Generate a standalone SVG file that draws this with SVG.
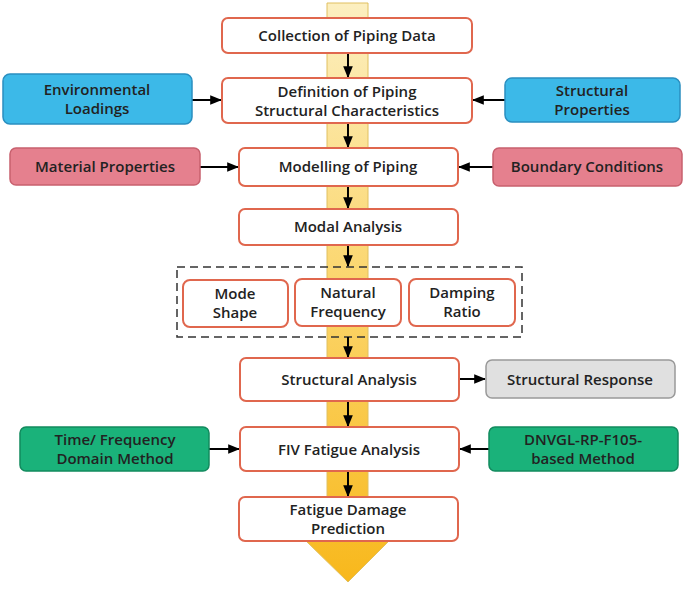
<svg xmlns="http://www.w3.org/2000/svg" width="685" height="589" viewBox="0 0 685 589">
<defs>
<linearGradient id="g" x1="0" y1="0" x2="0" y2="1"><stop offset="0" stop-color="#fcefc0"/><stop offset="0.5" stop-color="#fbd56a"/><stop offset="1" stop-color="#f8b81c"/></linearGradient>
<marker id="a" viewBox="0 0 10 10" refX="9" refY="5" markerWidth="6" markerHeight="6" orient="auto"><path d="M0,1 L10,5 L0,9 z" fill="#000"/></marker>
<style>
.w{fill:#fff;stroke:#e0674e;stroke-width:2}
.b{fill:#3cb9e8;stroke:#2a8fc0;stroke-width:1.5}
.p{fill:#e5808e;stroke:#c8606e;stroke-width:1.5}
.gr{fill:#e0e0e0;stroke:#999;stroke-width:1.5}
.gn{fill:#1ab27a;stroke:#128a5e;stroke-width:1.5}
text{font-family:"Open Sans","Noto Sans",sans-serif;font-size:15px;font-weight:600;fill:#222;text-anchor:middle}
.c line{stroke:#000;stroke-width:2;marker-end:url(#a)}
</style>
</defs>
<path d="M327,3 H368 V540 H390 L348,582 L305,540 H327 Z" fill="url(#g)" stroke="#e0c060" stroke-width="1"/>
<rect x="177" y="267" width="345" height="70" fill="none" stroke="#333" stroke-width="1.5" stroke-dasharray="8,5"/>
<g class="c">
<line x1="348" y1="53" x2="348" y2="77"/>
<line x1="348" y1="123" x2="348" y2="147"/>
<line x1="348" y1="186" x2="348" y2="208"/>
<line x1="348" y1="245" x2="348" y2="266"/>
<line x1="348" y1="337" x2="348" y2="357"/>
<line x1="348" y1="401" x2="348" y2="426"/>
<line x1="348" y1="471" x2="348" y2="496"/>
<line x1="192" y1="100" x2="221" y2="100"/>
<line x1="505" y1="100" x2="473" y2="100"/>
<line x1="200" y1="167" x2="238" y2="167"/>
<line x1="493" y1="167" x2="459" y2="167"/>
<line x1="459" y1="379" x2="485" y2="379"/>
<line x1="209" y1="449" x2="239" y2="449"/>
<line x1="489" y1="449" x2="460" y2="449"/>
</g>
<g id="n1"><rect class="w" x="222" y="18" width="250" height="35" rx="6"/><text x="347" y="41">Collection of Piping Data</text></g>
<g id="n2"><rect class="w" x="222" y="78" width="250" height="45" rx="6"/><text x="347" y="97">Definition of Piping</text><text x="347" y="116">Structural Characteristics</text></g>
<g id="n3"><rect class="b" x="3" y="74" width="189" height="50" rx="7"/><text x="97" y="95">Environmental</text><text x="97" y="114">Loadings</text></g>
<g id="n4"><rect class="b" x="505" y="78" width="175" height="44" rx="7"/><text x="592" y="96">Structural</text><text x="592" y="115">Properties</text></g>
<g id="n5"><rect class="p" x="10" y="148" width="190" height="37" rx="6"/><text x="105" y="172">Material Properties</text></g>
<g id="n6"><rect class="w" x="239" y="148" width="219" height="38" rx="6"/><text x="348" y="172">Modelling of Piping</text></g>
<g id="n7"><rect class="p" x="493" y="148" width="189" height="38" rx="6"/><text x="587" y="172">Boundary Conditions</text></g>
<g id="n8"><rect class="w" x="239" y="209" width="219" height="36" rx="6"/><text x="348" y="232">Modal Analysis</text></g>
<g id="n9"><rect class="w" x="183" y="280" width="105" height="47" rx="7"/><text x="235" y="299">Mode</text><text x="235" y="318">Shape</text></g>
<g id="n10"><rect class="w" x="295" y="279" width="106" height="47" rx="7"/><text x="348" y="298">Natural</text><text x="348" y="317">Frequency</text></g>
<g id="n11"><rect class="w" x="409" y="279" width="106" height="47" rx="7"/><text x="462" y="298">Damping</text><text x="462" y="317">Ratio</text></g>
<g id="n12"><rect class="w" x="240" y="358" width="219" height="43" rx="6"/><text x="349" y="385">Structural Analysis</text></g>
<g id="n13"><rect class="gr" x="486" y="360" width="189" height="38" rx="6"/><text x="580" y="385">Structural Response</text></g>
<g id="n14"><rect class="gn" x="20" y="427" width="189" height="44" rx="6"/><text x="115" y="445">Time/ Frequency</text><text x="115" y="464">Domain Method</text></g>
<g id="n15"><rect class="w" x="240" y="427" width="219" height="44" rx="6"/><text x="349" y="455">FIV Fatigue Analysis</text></g>
<g id="n16"><rect class="gn" x="489" y="427" width="189" height="44" rx="6"/><text x="583" y="445">DNVGL-RP-F105-</text><text x="583" y="464">based Method</text></g>
<g id="n17"><rect class="w" x="239" y="497" width="219" height="44" rx="6"/><text x="348" y="515">Fatigue Damage</text><text x="348" y="534">Prediction</text></g>
</svg>
